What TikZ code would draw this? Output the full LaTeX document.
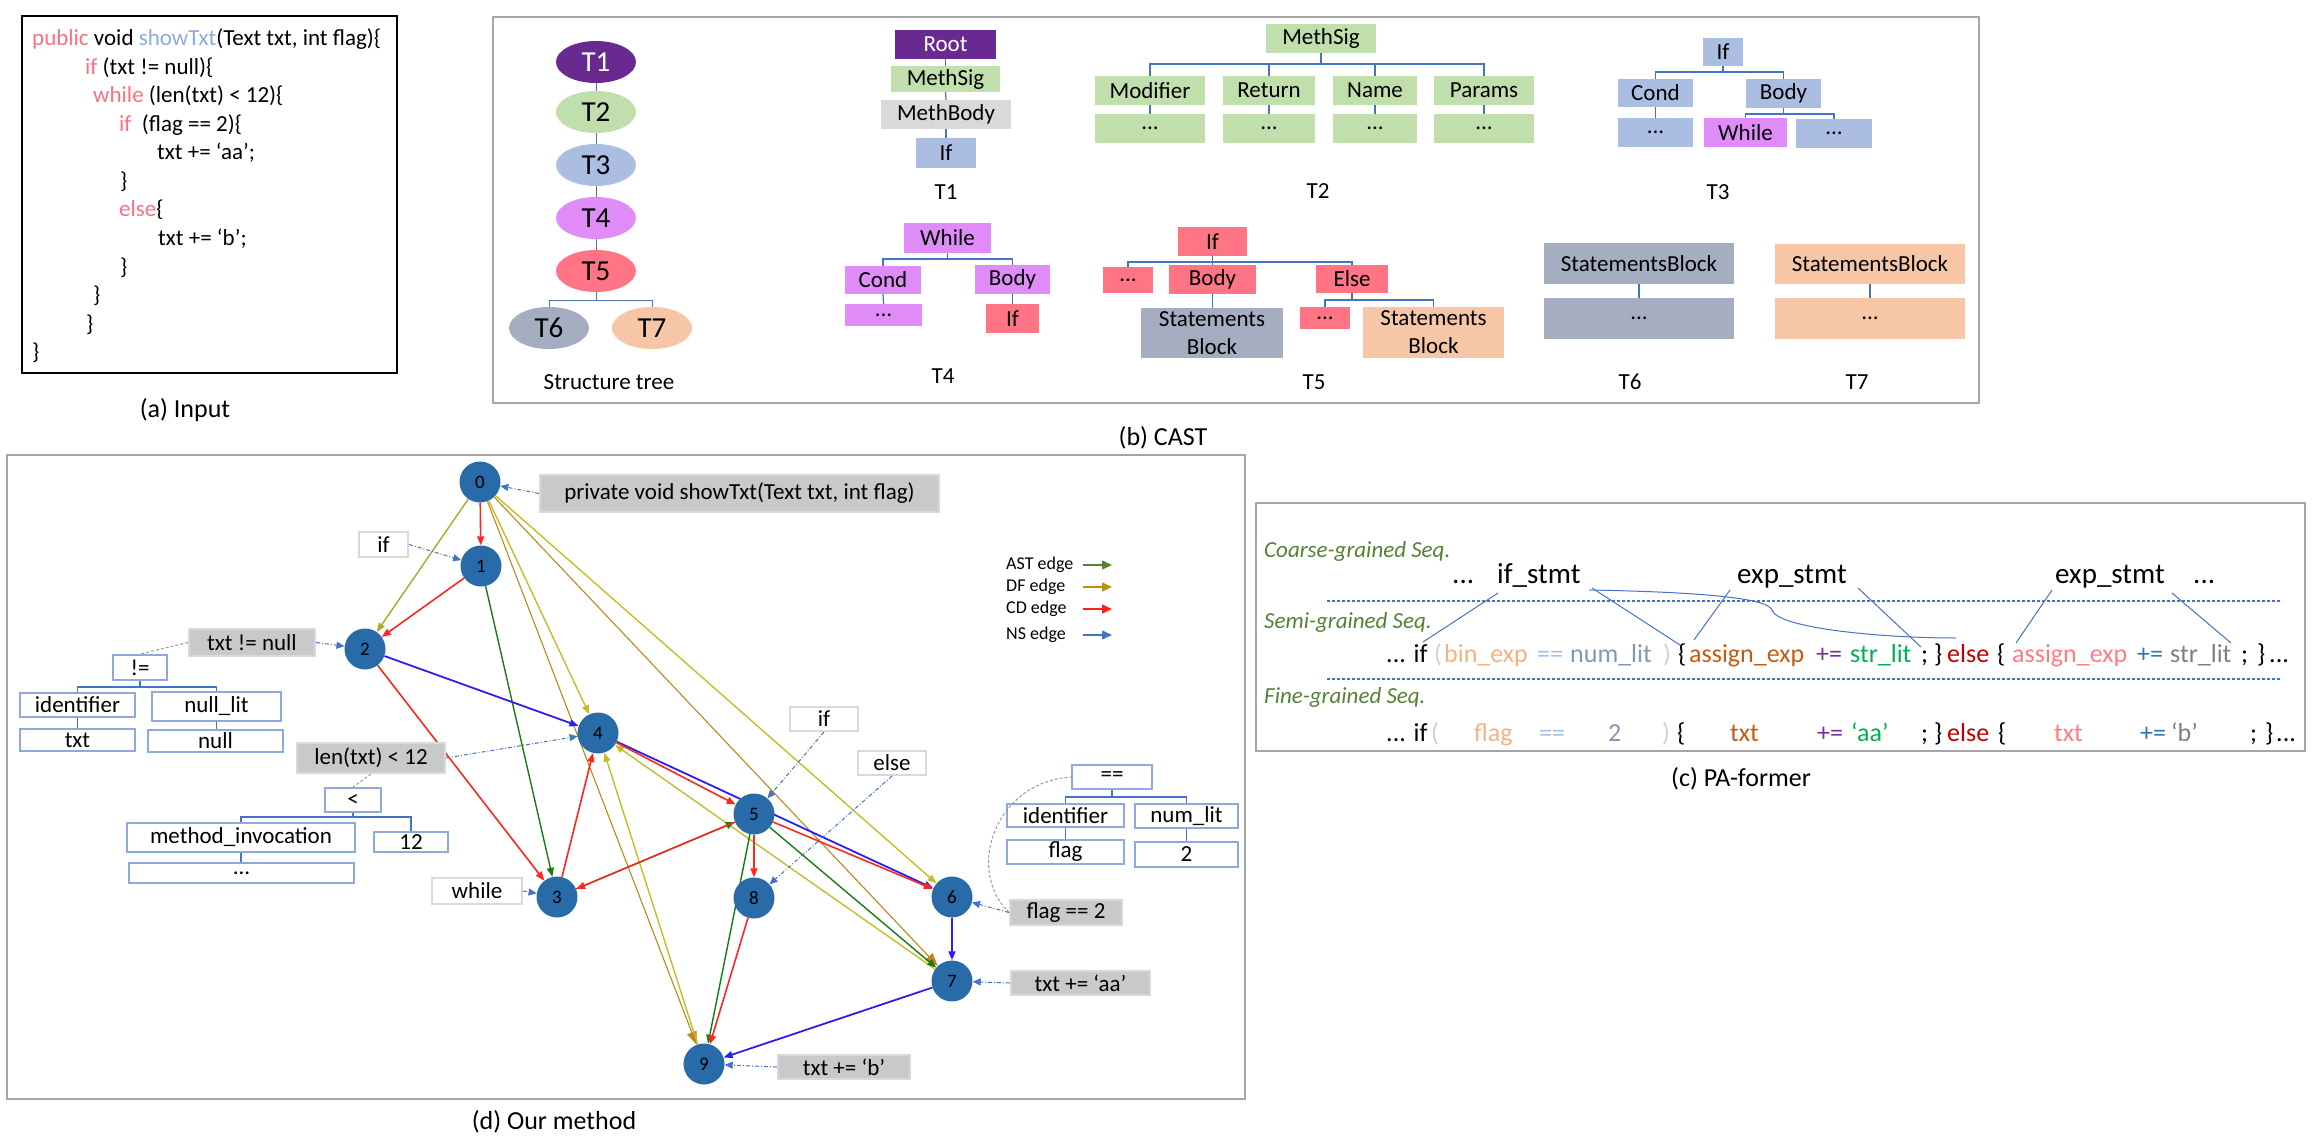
\documentclass[tikz,border=0pt]{standalone}
\usepackage{fontspec}
\setmainfont{Carlito}
\usetikzlibrary{arrows.meta,shapes.geometric,calc}
\pgfdeclarelayer{bg}
\pgfsetlayers{bg,main}
\newcommand\fsz[1]{\fontsize{#1}{#1}\selectfont}
\definecolor{kwpink}{RGB}{255,110,130}
\definecolor{fnblue}{RGB}{143,170,220}
\definecolor{panelgray}{RGB}{166,166,166}
\definecolor{cpurple}{RGB}{104,42,145}
\definecolor{cgreen}{RGB}{193,222,173}
\definecolor{cblue}{RGB}{171,190,226}
\definecolor{cgray}{RGB}{217,217,217}
\definecolor{cviolet}{RGB}{224,140,248}
\definecolor{cred}{RGB}{255,117,133}
\definecolor{cslate}{RGB}{165,174,193}
\definecolor{cpeach}{RGB}{247,198,166}
\definecolor{treeblue}{RGB}{68,114,196}
\definecolor{nodeblue}{RGB}{41,106,168}
\definecolor{edred}{RGB}{250,40,30}
\definecolor{edgreen}{RGB}{20,125,20}
\definecolor{edblue}{RGB}{45,30,240}
\definecolor{edyellow}{RGB}{195,190,40}
\definecolor{edolive}{RGB}{170,170,40}
\definecolor{edbrown}{RGB}{190,135,30}
\definecolor{lgast}{RGB}{84,130,53}
\definecolor{lgdf}{RGB}{191,144,0}
\definecolor{lgcd}{RGB}{255,30,30}
\definecolor{lgns}{RGB}{68,114,196}
\definecolor{labgray}{RGB}{201,201,201}
\definecolor{labborder}{RGB}{217,217,217}
\definecolor{leafborder}{RGB}{142,169,219}
\definecolor{seqgreen}{RGB}{84,130,53}
\definecolor{tkparen}{RGB}{208,208,208}
\definecolor{tkorange}{RGB}{244,177,131}
\definecolor{tkeq}{RGB}{157,195,230}
\definecolor{tknum}{RGB}{132,151,176}
\definecolor{tkbrown}{RGB}{197,90,17}
\definecolor{tkpurple}{RGB}{112,48,160}
\definecolor{tkgreen}{RGB}{0,176,80}
\definecolor{tkelse}{RGB}{192,0,0}
\definecolor{tkpink}{RGB}{255,124,128}
\definecolor{tkblue}{RGB}{46,117,182}
\definecolor{tkgray}{RGB}{127,127,127}
\begin{document}
\begin{tikzpicture}[x=1pt,y=-1pt,
  panel/.style={draw=panelgray,line width=2pt},
  capt/.style={font=\fsz{26},inner sep=0pt},
  code/.style={anchor=base west,inner sep=0pt,font=\fsz{23}},
  ell/.style={ellipse,minimum width=80pt,minimum height=42pt,inner sep=0pt,font=\fsz{29}},
  cb/.style={rectangle,fill=#1,inner sep=0pt,font=\fsz{23}},
  tlab/.style={inner sep=0pt,font=\fsz{23}},
  tl/.style={draw=treeblue,line width=1.2pt},
  stl/.style={draw=treeblue!80!gray,line width=1pt},
  gnode/.style={circle,fill=nodeblue,minimum size=41pt,inner sep=0pt,font=\fsz{19}},
  glab/.style={rectangle,fill=labgray,draw=labborder,line width=2pt,inner sep=0pt,font=\fsz{23}},
  wlab/.style={rectangle,fill=white,draw=labborder,line width=2pt,inner sep=0pt,font=\fsz{23}},
  leaf/.style={rectangle,fill=white,draw=leafborder,line width=2pt,inner sep=0pt,font=\fsz{23}},
  gdash/.style={draw=gray!80,line width=1pt,dash pattern=on 3pt off 2pt},
  labarrow/.style={draw=lgns,line width=1pt,dash pattern=on 4pt off 2pt on 1pt off 2pt,-{Triangle[length=8pt,width=7pt]}},
  cdedge/.style={draw=edred,line width=1.6pt,-{Triangle[length=9pt,width=7pt]}},
  astedge/.style={draw=edgreen,line width=1.4pt,-{Triangle[length=9pt,width=7pt]}},
  nsedge/.style={draw=edblue,line width=1.8pt,-{Triangle[length=9pt,width=7pt]}},
  dfy/.style={draw=edyellow,line width=1.4pt,-{Triangle[length=9pt,width=7pt]}},
  dfo/.style={draw=edolive,line width=1.4pt,-{Triangle[length=9pt,width=7pt]}},
  dfb/.style={draw=edbrown,line width=1.1pt,-{Triangle[length=13pt,width=10pt]}},
  lgtxt/.style={anchor=west,inner sep=0pt,font=\fsz{18}},
  lgarr/.style={draw=#1,line width=1.4pt,-{Triangle[length=10pt,width=9pt]}},
  tok/.style={anchor=base west,inner sep=0pt,font=\fsz{26}},
  ctok/.style={anchor=base west,inner sep=0pt,font=\fsz{29}},
  seq/.style={anchor=base west,inner sep=0pt,font=\fsz{23}\itshape,text=seqgreen},
  cl/.style={draw=treeblue,line width=1pt},
  sepl/.style={draw=treeblue,line width=1.2pt,dash pattern=on 3pt off 2pt}
]
\useasboundingbox (0,0) rectangle (2322,1142);

% ---------------- (a) Input
\draw[line width=1.5pt] (22,16) rectangle (397,373);
\node[code] (c1) at (32,46) {\textcolor{kwpink}{public} void \textcolor{fnblue}{showTxt}(Text txt, int flag)\{};
\node[code] (c2) at (85,74.5) {\textcolor{kwpink}{if} (txt != null)\{};
\node[code] (c3) at (93,103) {\textcolor{kwpink}{while} (len(txt) < 12)\{};
\node[code] (c4) at (119,131.5) {\textcolor{kwpink}{if}\ \ (flag == 2)\{};
\node[code] (c5) at (157,160) {txt += ‘aa’;};
\node[code] (c6) at (120,188.5) {\}};
\node[code] (c7) at (119,217) {\textcolor{kwpink}{else}\{};
\node[code] (c8) at (158,245.5) {txt += ‘b’;};
\node[code] (c9) at (120,274) {\}};
\node[code] (c10) at (93,302.5) {\}};
\node[code] (c11) at (86,331) {\}};
\node[code] (c12) at (32,359.5) {\}};
\node[capt] (capa) at (185,410) {(a) Input};

% ---------------- (b) CAST
\draw[panel] (493,17) rectangle (1979,403);
\node[capt] (capb) at (1163,438) {(b) CAST};
% structure tree
\node[ell,fill=cpurple,text=white] (e1) at (596,62) {T1};
\node[ell,fill=cgreen] (e2) at (596,112) {T2};
\node[ell,fill=cblue] (e3) at (596,165) {T3};
\node[ell,fill=cviolet] (e4) at (596,218) {T4};
\node[ell,fill=cred] (e5) at (596,271) {T5};
\node[ell,fill=cslate] (e6) at (549,328) {T6};
\node[ell,fill=cpeach] (e7) at (652,328) {T7};
\draw[stl] (e1.south) -- (e2.north);
\draw[stl] (e2.south) -- (e3.north);
\draw[stl] (e3.south) -- (e4.north);
\draw[stl] (e4.south) -- (e5.north);
\draw[stl] (e5.south) -- (e5.south |- 0,300);
\draw[stl] (e6.north) |- (e7.north |- 0,300) -- (e7.north);
\node[tlab] (stlab) at (609,382) {Structure tree};
% T1
\node[cb=cpurple,text=white,minimum width=101pt,minimum height=29pt] (r1) at (945.5,44.5) {Root};
\node[cb=cgreen,minimum width=109pt,minimum height=26pt] (r1s) at (945.5,79) {MethSig};
\node[cb=cgray,minimum width=130pt,minimum height=29pt] (r1b) at (946,114.5) {MethBody};
\node[cb=cblue,minimum width=60pt,minimum height=30pt] (r1i) at (946,153) {If};
\draw[tl] (r1.south) -- (r1s.north);
\draw[tl] (r1s.south) -- (r1b.north);
\draw[tl] (r1b.south) -- (r1i.north);
\node[tlab] (t1lab) at (946,192) {T1};
% T2
\node[cb=cgreen,minimum width=110pt,minimum height=29pt] (s2) at (1321,38.5) {MethSig};
\node[cb=cgreen,minimum width=110pt,minimum height=29pt] (s2m) at (1150,90.5) {Modifier};
\node[cb=cgreen,minimum width=92pt,minimum height=29pt] (s2r) at (1269,90.5) {Return};
\node[cb=cgreen,minimum width=84pt,minimum height=29pt] (s2n) at (1375,90.5) {Name};
\node[cb=cgreen,minimum width=100pt,minimum height=29pt] (s2p) at (1484,90.5) {Params};
\node[cb=cgreen,minimum width=110pt,minimum height=29pt] (s2md) at (1150,128.5) {...};
\node[cb=cgreen,minimum width=92pt,minimum height=29pt] (s2rd) at (1269,128.5) {...};
\node[cb=cgreen,minimum width=84pt,minimum height=29pt] (s2nd) at (1375,128.5) {...};
\node[cb=cgreen,minimum width=100pt,minimum height=29pt] (s2pd) at (1484,128.5) {...};
\draw[tl] (s2.south) -- (s2.south |- 0,64);
\draw[tl] (s2m.north) |- (s2p.north |- 0,64) -- (s2p.north);
\draw[tl] (s2r.north) -- (s2r.north |- 0,64);
\draw[tl] (s2n.north) -- (s2n.north |- 0,64);
\draw[tl] (s2m.south) -- (s2md.north);
\draw[tl] (s2r.south) -- (s2rd.north);
\draw[tl] (s2n.south) -- (s2nd.north);
\draw[tl] (s2p.south) -- (s2pd.north);
\node[tlab] (t2lab) at (1318,191) {T2};
% T3
\node[cb=cblue,minimum width=40pt,minimum height=28pt] (i3) at (1723,52) {If};
\node[cb=cblue,minimum width=75pt,minimum height=28pt] (i3c) at (1655.5,93) {Cond};
\node[cb=cblue,minimum width=75pt,minimum height=29pt] (i3b) at (1783.5,93.5) {Body};
\node[cb=cblue,minimum width=75pt,minimum height=29pt] (i3cd) at (1655.5,132.5) {...};
\node[cb=cviolet,minimum width=83pt,minimum height=29pt] (i3w) at (1745.5,132.5) {While};
\node[cb=cblue,minimum width=76pt,minimum height=29pt] (i3bd) at (1834,133.5) {...};
\draw[tl] (i3.south) -- (i3.south |- 0,72);
\draw[tl] (i3c.north) |- (i3b.north |- 0,72) -- (i3b.north);
\draw[tl] (i3c.south) -- (i3cd.north);
\draw[tl] (i3b.south) -- (i3b.south |- 0,114);
\draw[tl] (i3w.north) |- (i3bd.north |- 0,114) -- (i3bd.north);
\node[tlab] (t3lab) at (1718,192) {T3};
% T4
\node[cb=cviolet,minimum width=87pt,minimum height=30pt] (w4) at (947.5,238) {While};
\node[cb=cviolet,minimum width=76pt,minimum height=28pt] (w4c) at (883,280) {Cond};
\node[cb=cviolet,minimum width=75pt,minimum height=29pt] (w4b) at (1012.5,279.5) {Body};
\node[cb=cviolet,minimum width=77pt,minimum height=22pt] (w4cd) at (883.5,315) {...};
\node[cb=cred,minimum width=53pt,minimum height=29pt] (w4i) at (1012.5,318.5) {If};
\draw[tl] (w4.south) -- (w4.south |- 0,259);
\draw[tl] (w4c.north) |- (w4b.north |- 0,259) -- (w4b.north);
\draw[tl] (w4c.south) -- (w4cd.north);
\draw[tl] (w4b.south) -- (w4i.north);
\node[tlab] (t4lab) at (943,376) {T4};
% T5
\node[cb=cred,minimum width=69pt,minimum height=29pt] (f5) at (1212.5,241.5) {If};
\node[cb=cred,minimum width=50pt,minimum height=26pt] (f5d) at (1128,280) {...};
\node[cb=cred,minimum width=87pt,minimum height=29pt] (f5b) at (1212.5,279.5) {Body};
\node[cb=cred,minimum width=72pt,minimum height=28pt] (f5e) at (1352,279) {Else};
\node[cb=cslate,minimum width=142pt,minimum height=50pt,align=center,font=\fontsize{23}{28}\selectfont] (f5sa) at (1212,333) {Statements\\Block};
\node[cb=cred,minimum width=50pt,minimum height=22pt] (f5ed) at (1325,318) {...};
\node[cb=cpeach,minimum width=141pt,minimum height=51pt,align=center,font=\fontsize{23}{28}\selectfont] (f5sb) at (1433.5,332.5) {Statements\\Block};
\draw[tl] (f5.south) -- (f5.south |- 0,262);
\draw[tl] (f5d.north) |- (f5e.north |- 0,262) -- (f5e.north);
\draw[tl] (f5b.north) -- (f5b.north |- 0,262);
\draw[tl] (f5b.south) -- (f5b.south |- f5sa.north);
\draw[tl] (f5e.south) -- (f5e.south |- 0,300);
\draw[tl] (f5ed.north) |- (f5sb.north |- 0,300) -- (f5sb.north);
\node[tlab] (t5lab) at (1314,382) {T5};
% T6, T7
\node[cb=cslate,minimum width=190pt,minimum height=41pt] (b6) at (1639,263.5) {StatementsBlock};
\node[cb=cslate,minimum width=190pt,minimum height=41pt] (b6d) at (1639,318.5) {...};
\draw[tl] (b6.south) -- (b6d.north);
\node[tlab] (t6lab) at (1630,382) {T6};
\node[cb=cpeach,minimum width=190pt,minimum height=40pt] (b7) at (1870,264) {StatementsBlock};
\node[cb=cpeach,minimum width=190pt,minimum height=41pt] (b7d) at (1870,318.5) {...};
\draw[tl] (b7.south) -- (b7d.north);
\node[tlab] (t7lab) at (1857,382) {T7};

% ---------------- (c) PA-former
\draw[panel] (1256,503) rectangle (2305,751);
\node[capt] (capc) at (1741,779) {(c) PA-former};
\node[seq] (sq1) at (1264,557) {Coarse-grained Seq.};
\node[seq] (sq2) at (1264,628) {Semi-grained Seq.};
\node[seq] (sq3) at (1264,703) {Fine-grained Seq.};
\coordinate (d1a) at (1327,601); \coordinate (d1b) at (2282,601);
\coordinate (d2a) at (1327,679); \coordinate (d2b) at (2282,679);
\draw[sepl] (d1a) -- (d1b);
\draw[sepl] (d2a) -- (d2b);
% coarse
\node[ctok] (co0) at (1452,583) {...};
\node[ctok] (co1) at (1497,583) {if\_stmt};
\node[ctok] (co2) at (1737,583) {exp\_stmt};
\node[ctok] (co3) at (2055,583) {exp\_stmt};
\node[ctok] (co4) at (2193,583) {...};
% semi
\node[tok] (s0) at (1386,662) {... if};
\node[tok,text=tkparen] (s1) at (1434,662) {(};
\node[tok,text=tkorange] (s2t) at (1444,662) {bin\_exp};
\node[tok,text=tkeq] (s3) at (1537,662) {==};
\node[tok,text=tknum] (s4) at (1570,662) {num\_lit};
\node[tok,text=tkparen] (s5) at (1663,662) {)};
\node[tok] (s6) at (1678,662) {\{};
\node[tok,text=tkbrown] (s7) at (1689,662) {assign\_exp};
\node[tok,text=tkpurple] (s8) at (1816,662) {+=};
\node[tok,text=tkgreen] (s9) at (1850,662) {str\_lit};
\node[tok] (s10) at (1921,662) {;};
\node[tok] (s11) at (1934,662) {\}};
\node[tok,text=tkelse] (s12) at (1947,662) {else};
\node[tok] (s13) at (1997,662) {\{};
\node[tok,text=tkpink] (s14) at (2012,662) {assign\_exp};
\node[tok,text=tkblue] (s15) at (2137,662) {+=};
\node[tok,text=tkgray] (s16) at (2170,662) {str\_lit};
\node[tok] (s17) at (2241,662) {;};
\node[tok] (s18) at (2257,662) {\}};
\node[tok] (s19) at (2269,662) {...};
% fine
\node[tok] (f0) at (1386,741) {... if};
\node[tok,text=tkparen] (f1) at (1431,741) {(};
\node[tok,text=tkorange] (f2) at (1474,741) {flag};
\node[tok,text=tkeq] (f3) at (1539,741) {==};
\node[tok,text=tknum] (f4) at (1608,741) {2};
\node[tok,text=tkparen] (f5t) at (1662,741) {)};
\node[tok] (f6) at (1677,741) {\{};
\node[tok,text=tkbrown] (f7) at (1730,741) {txt};
\node[tok,text=tkpurple] (f8) at (1817,741) {+=};
\node[tok,text=tkgreen] (f9) at (1851,741) {‘aa’};
\node[tok] (f10) at (1921,741) {;};
\node[tok] (f11) at (1934,741) {\}};
\node[tok,text=tkelse] (f12) at (1947,741) {else};
\node[tok] (f13) at (1998,741) {\{};
\node[tok,text=tkpink] (f14) at (2054,741) {txt};
\node[tok,text=tkblue] (f15) at (2140,741) {+=};
\node[tok,text=tkgray] (f16) at (2171,741) {‘b’};
\node[tok] (f17) at (2250,741) {;};
\node[tok] (f18) at (2265,741) {\}};
\node[tok] (f19) at (2276,741) {...};
% links coarse -> semi
\coordinate (k1a) at (1498,593); \coordinate (k1b) at (1423,642);
\coordinate (k2a) at (1592,588); \coordinate (k2b) at (1680,645);
\coordinate (k3a) at (1730,590); \coordinate (k3b) at (1694,640);
\coordinate (k4a) at (1858,588); \coordinate (k4b) at (1921,647);
\coordinate (k5a) at (2052,590); \coordinate (k5b) at (2016,643);
\coordinate (k6a) at (2172,593); \coordinate (k6b) at (2231,643);
\coordinate (kca) at (1589,590); \coordinate (kcb) at (1956,638);
\draw[cl] (k1a) -- (k1b);
\draw[cl] (k2a) -- (k2b);
\draw[cl] (k3a) -- (k3b);
\draw[cl] (k4a) -- (k4b);
\draw[cl] (k5a) -- (k5b);
\draw[cl] (k6a) -- (k6b);
\draw[cl] (kca) .. controls (1700,592) and (1768,598) .. (1772,610) .. controls (1777,628) and (1880,638) .. (kcb);

% ---------------- (d) Our method
\draw[panel] (7,455) rectangle (1245,1099);
\node[capt] (capd) at (554,1122) {(d) Our method};
% graph nodes
\node[gnode] (n0) at (480,482) {0};
\node[gnode] (n1) at (481,566) {1};
\node[gnode] (n2) at (365,649) {2};
\node[gnode] (n3) at (557,897) {3};
\node[gnode] (n4) at (598,733) {4};
\node[gnode] (n5) at (754,814) {5};
\node[gnode] (n8) at (754,898) {8};
\node[gnode] (n6) at (952,897) {6};
\node[gnode] (n7) at (952,981) {7};
\node[gnode] (n9) at (704,1064) {9};
\begin{pgfonlayer}{bg}
\draw[dfo] (n0) -- (n2);
\draw[dfy] (n0) -- (n4);
\draw[dfy] (n0) -- (n6);
\draw[dfb] (n0) -- (n9);
\draw[dfb] (n0) -- (n7);
\draw[dfy] (n9) -- (n4);
\draw[dfy] (n7) -- (n4);
\draw[astedge] (n1) -- (n3);
\draw[astedge] (n3) -- (n5);
\draw[astedge] (n5) -- (n7);
\draw[astedge] (n5) -- (n9);
\draw[nsedge] (n2) -- (n4);
\draw[nsedge] (n4) -- (n6);
\draw[nsedge] (n6) -- (n7);
\draw[nsedge] (n7) -- (n9);
\draw[cdedge] (n0) -- (n1);
\draw[cdedge] (n1) -- (n2);
\draw[cdedge] (n2) -- (n3);
\draw[cdedge] (n3) -- (n4);
\draw[cdedge] (n4) -- (n5);
\draw[cdedge] (n5) -- (n3);
\draw[cdedge] (n5) -- (n6);
\draw[cdedge] (n5) -- (n8);
\draw[cdedge] (n8) -- (n9);
\end{pgfonlayer}
% labels
\node[glab,minimum width=399pt,minimum height=37pt] (lab0) at (739.5,493.5) {private void showTxt(Text txt, int flag)};
\node[wlab,minimum width=49pt,minimum height=25pt] (labif1) at (383.5,544.5) {if};
\node[glab,minimum width=126pt,minimum height=27pt] (labtxt) at (252,642.5) {txt != null};
\node[leaf,minimum width=54pt,minimum height=25pt] (ne) at (140,667.5) {!=};
\node[leaf,minimum width=115pt,minimum height=24pt] (id1) at (77.5,705) {identifier};
\node[leaf,minimum width=129pt,minimum height=29pt] (nl) at (216.5,706.5) {null\_lit};
\node[leaf,minimum width=115pt,minimum height=22pt] (txl) at (77.5,740) {txt};
\node[leaf,minimum width=135pt,minimum height=22pt] (nul) at (215.5,741) {null};
\node[glab,minimum width=148pt,minimum height=30pt] (lablen) at (371,758) {len(txt) < 12};
\node[leaf,minimum width=56pt,minimum height=24pt] (lt) at (353,800) {<};
\node[leaf,minimum width=228pt,minimum height=29pt] (mi) at (241,837.5) {method\_invocation};
\node[leaf,minimum width=74pt,minimum height=20pt] (tw) at (411,842) {12};
\node[leaf,minimum width=225pt,minimum height=20pt] (mid) at (241.5,873) {...};
\node[wlab,minimum width=90pt,minimum height=26pt] (labwhile) at (477,891) {while};
\node[wlab,minimum width=68pt,minimum height=24pt] (labif5) at (824,719) {if};
\node[wlab,minimum width=68pt,minimum height=24pt] (labelse) at (892,763) {else};
\node[leaf,minimum width=80pt,minimum height=24pt] (eq) at (1112,777) {==};
\node[leaf,minimum width=117pt,minimum height=23pt] (id2) at (1065.5,815.5) {identifier};
\node[leaf,minimum width=103pt,minimum height=24pt] (nml) at (1186.5,816) {num\_lit};
\node[leaf,minimum width=117pt,minimum height=24pt] (fll) at (1065.5,852) {flag};
\node[leaf,minimum width=103pt,minimum height=25pt] (two) at (1186.5,854.5) {2};
\node[glab,minimum width=112pt,minimum height=25pt] (labflag) at (1066,912.5) {flag == 2};
\node[glab,minimum width=139pt,minimum height=24pt] (labaa) at (1080.5,983) {txt += ‘aa’};
\node[glab,minimum width=132pt,minimum height=24pt] (labb) at (844,1067) {txt += ‘b’};
% small trees
\draw[tl] (ne.south) -- (ne.south |- 0,687);
\draw[tl] (id1.north) |- (nl.north |- 0,687) -- (nl.north);
\draw[tl] (id1.south) -- (txl.north);
\draw[tl] (nl.south) -- (nl.south |- nul.north);
\draw[tl] (lt.south) -- (lt.south |- 0,817);
\draw[tl] (mi.north) |- (tw.north |- 0,817) -- (tw.north);
\draw[tl] (mi.south) -- (mi.south |- mid.north);
\draw[tl] (eq.south) -- (eq.south |- 0,797);
\draw[tl] (id2.north) |- (nml.north |- 0,797) -- (nml.north);
\draw[tl] (id2.south) -- (fll.north);
\draw[tl] (nml.south) -- (two.north);
\draw[gdash] (labtxt.west) -- (ne.north);
\draw[gdash] (lablen.south) -- (lt.north);
\draw[gdash] (labflag.west) .. controls (965,870) and (995,782) .. (eq.west);
% label arrows
\draw[labarrow] (lab0.west) -- (n0);
\draw[labarrow] (labif1.east) -- (n1);
\draw[labarrow] (labtxt.east) -- (n2);
\draw[labarrow] (lablen.east) -- (n4);
\draw[labarrow] (labwhile.east) -- (n3);
\draw[labarrow] (labif5.south) -- (n5);
\draw[labarrow] (labelse.south) -- (n8);
\draw[labarrow] (labflag.west) -- (n6);
\draw[labarrow] (labaa.west) -- (n7);
\draw[labarrow] (labb.west) -- (n9);
% legend
\node[lgtxt] (lg1) at (1006,565) {AST edge};
\node[lgtxt] (lg2) at (1006,587) {DF edge};
\node[lgtxt] (lg3) at (1006,609) {CD edge};
\node[lgtxt] (lg4) at (1006,635) {NS edge};
\coordinate (la1) at (1083,565); \coordinate (lb1) at (1112,565);
\coordinate (la2) at (1083,587); \coordinate (lb2) at (1112,587);
\coordinate (la3) at (1083,609); \coordinate (lb3) at (1112,609);
\coordinate (la4) at (1083,635); \coordinate (lb4) at (1112,635);
\draw[lgarr=lgast] (la1) -- (lb1);
\draw[lgarr=lgdf] (la2) -- (lb2);
\draw[lgarr=lgcd] (la3) -- (lb3);
\draw[lgarr=lgns] (la4) -- (lb4);
\end{tikzpicture}
\end{document}
